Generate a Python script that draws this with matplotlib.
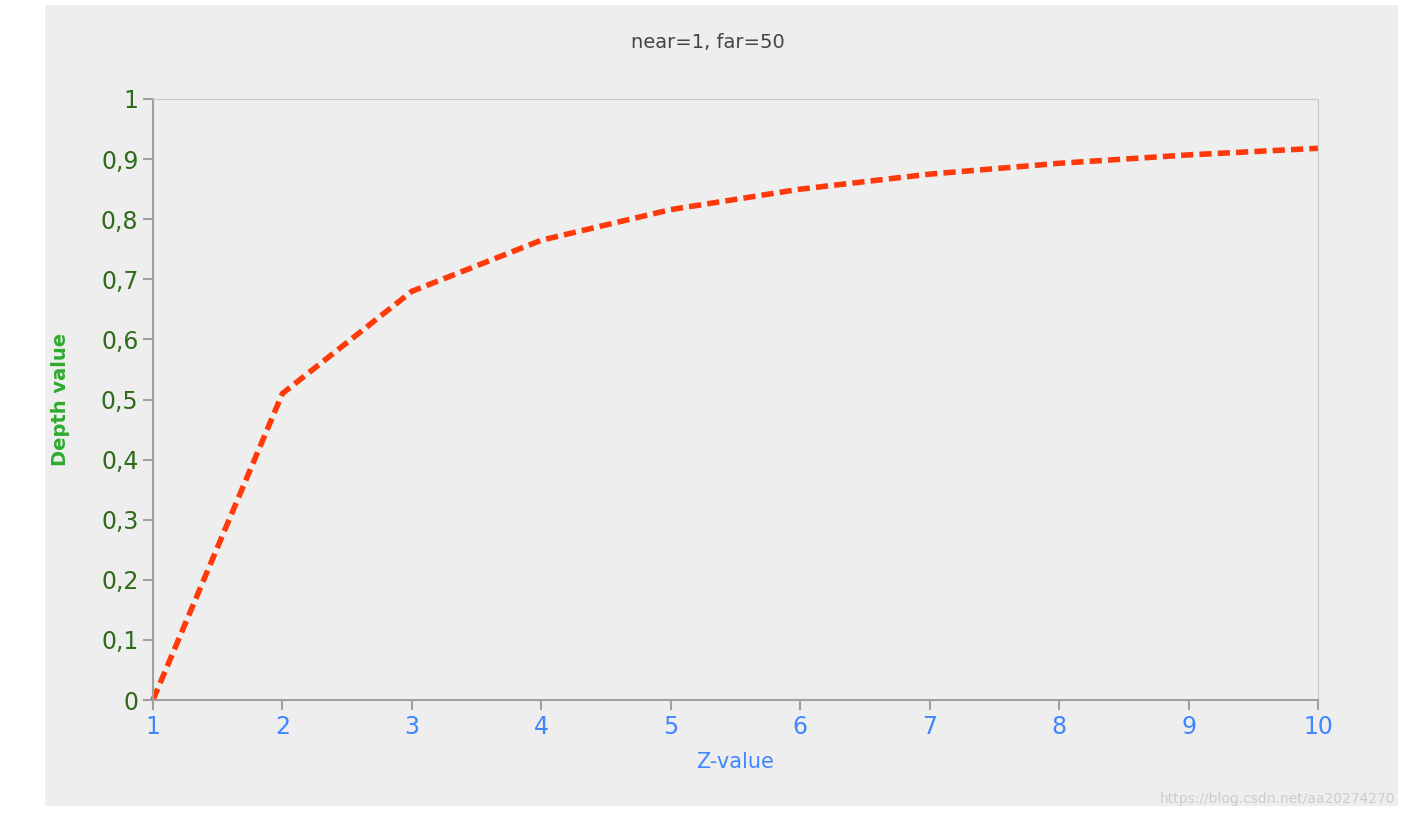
import matplotlib
matplotlib.use("Agg")
import matplotlib.pyplot as plt
from matplotlib.patches import Rectangle

z_values = [1, 2, 3, 4, 5, 6, 7, 8, 9, 10]
depth_values = [0.0, 0.510, 0.680, 0.765, 0.816, 0.850, 0.875, 0.893, 0.907, 0.918]
y_ticks = [0, 0.1, 0.2, 0.3, 0.4, 0.5, 0.6, 0.7, 0.8, 0.9, 1]
y_labels = ["0", "0,1", "0,2", "0,3", "0,4", "0,5", "0,6", "0,7", "0,8", "0,9", "1"]

W, H = 1404, 818
fig = plt.figure(figsize=(W/100, H/100), dpi=100)
fig.patch.set_facecolor("white")
bg = Rectangle((45/W, 1-806/H), (1398-45)/W, (806-5)/H,
               transform=fig.transFigure, facecolor="#eeeeee", edgecolor="none", zorder=-10)
fig.add_artist(bg)
ax = fig.add_axes([153/W, 1-700/H, (1318-153)/W, (700-99)/H])
ax.set_zorder(1)
ax.set_facecolor("#eeeeee")
ax.plot(z_values, depth_values, color="#ff3a0a", lw=4, ls=(0, (2.2, 1.1)), clip_on=False)
ax.set_xlim(1, 10)
ax.set_ylim(0, 1)
ax.set_xticks(z_values)
ax.set_yticks(y_ticks)
ax.set_yticklabels(y_labels)
for s in ax.spines.values():
    s.set_color("#c8c8c8")
ax.spines["left"].set_color("#a0a0a0")
ax.spines["bottom"].set_color("#a0a0a0")
ax.spines["left"].set_linewidth(1.5)
ax.spines["bottom"].set_linewidth(1.5)
ax.tick_params(axis="y", colors="#a0a0a0", labelcolor="#2f6b1a", labelsize=17, length=7, width=1.5)
ax.tick_params(axis="x", colors="#a0a0a0", labelcolor="#3f86ff", labelsize=17, length=7, width=1.5)
ax.set_xlabel("Z-value", color="#3f86ff", fontsize=15, labelpad=10)
ax.set_ylabel("Depth value", color="#2eaa2e", fontsize=14, labelpad=22, fontweight="bold")
fig.text(708/W, 1-42/H, "near=1, far=50", ha="center", va="center", fontsize=14, color="#444444")
fig.text(1395/W, 1-799/H, "https://blog.csdn.net/aa20274270", ha="right", va="center",
         fontsize=10, color="#cccccc")
fig.savefig("out.png", dpi=100)
